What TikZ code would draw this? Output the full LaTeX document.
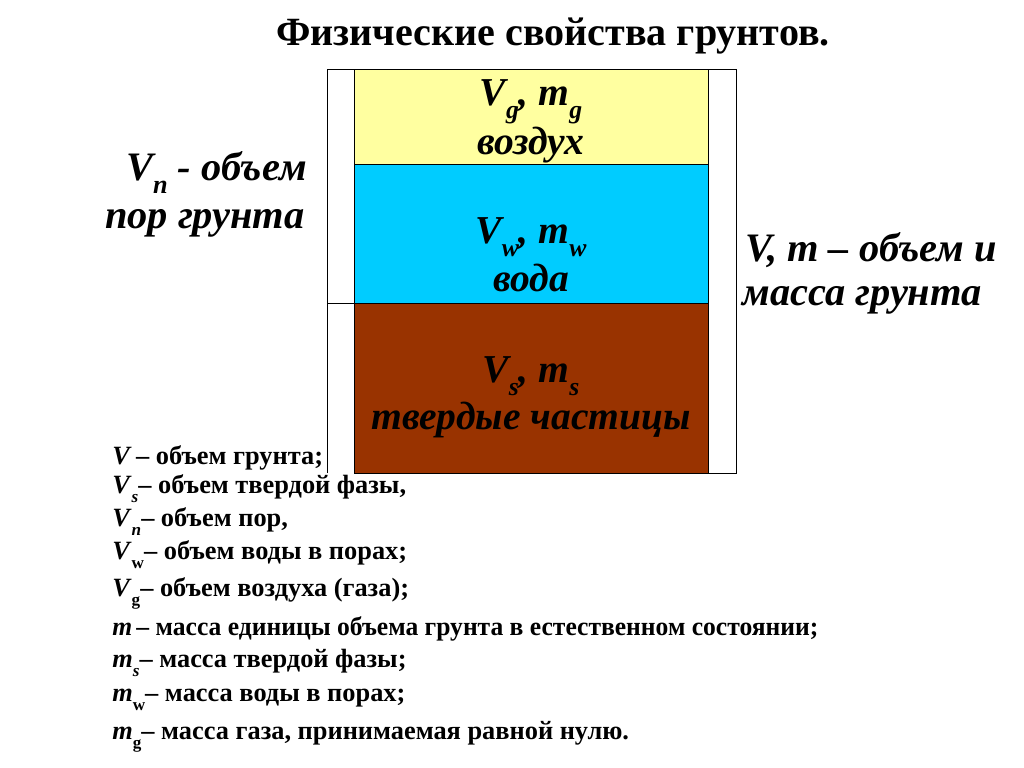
\documentclass[tikz,border=0pt]{standalone}
\usepackage{fontspec}
\setmainfont{Liberation Serif}
\usetikzlibrary{positioning}
\definecolor{airyellow}{RGB}{255,255,160}
\definecolor{waterblue}{RGB}{0,204,255}
\definecolor{soilbrown}{RGB}{153,51,0}
\newcommand{\lo}[1]{\raisebox{-0.7ex}{\scalebox{0.65}{#1}}}
\tikzset{
  cell/.style={anchor=base, font=\fontsize{22.5}{25}\selectfont\bfseries\itshape, inner sep=0pt},
  side/.style={font=\fontsize{23}{27}\selectfont\bfseries\itshape, inner sep=0pt},
  note/.style={anchor=base west, font=\fontsize{15}{18}\selectfont\bfseries, inner sep=0pt},
}
\begin{document}
\begin{tikzpicture}[x=0.2mm,y=-0.2mm]
    \useasboundingbox (0,0) rectangle (1024,768);
    % Title
    \node[font=\fontsize{22.8}{26}\selectfont\bfseries] (title) at (553,36) {Физические свойства грунтов.};

    % Soil column
    \draw[fill=airyellow] (354,69) rectangle (708,164);
    \draw[fill=waterblue] (354,164) rectangle (708,303);
    \draw[fill=soilbrown] (354,303) rectangle (708,473);
    \draw (327,69) rectangle (354,303);
    \draw (327,303) -- (327,473);
    \draw (708,69) rectangle (736,473);

    \node[cell] (airsym) at (531,106) {V\lo{g}, m\lo{g}};
    \node[cell] (air) at (531,155) {воздух};
    \node[cell] (watersym) at (531,244) {V\lo{w}, m\lo{w}};
    \node[cell] (water) at (531,292) {вода};
    \node[cell] (solidsym) at (531,383) {V\lo{s}, m\lo{s}};
    \node[cell] (solid) at (531,430) {твердые частицы};

    % Side labels
    \node[side, anchor=base east] (pores1) at (307,181) {V\lo{n} - объем};
    \node[side, anchor=base east] (pores2) at (305,229) {пор грунта};
    \node[side, anchor=base west] (total1) at (745,262) {V, m – объем и};
    \node[side, anchor=base west] (total2) at (742,306) {масса грунта};

    % Legend
    \node[note] (l1) at (112,465) {\textit{V}\,– объем грунта;};
    \node[note] (l2) at (112,494) {\textit{V}\lo{\textit{s}}– объем твердой фазы,};
    \node[note] (l3) at (112,527) {\textit{V}\lo{\textit{n}}– объем пор,};
    \node[note] (l4) at (112,560) {\textit{V}\lo{w}– объем воды в порах;};
    \node[note] (l5) at (112,597) {\textit{V}\lo{g}– объем воздуха (газа);};
    \node[note, xscale=0.97] (l6) at (112,636) {\textit{m}\,– масса единицы объема грунта в естественном состоянии;};
    \node[note] (l7) at (112,668) {\textit{m}\lo{\textit{s}}– масса твердой фазы;};
    \node[note] (l8) at (112,702) {\textit{m}\lo{w}– масса воды в порах;};
    \node[note] (l9) at (112,740) {\textit{m}\lo{g}– масса газа, принимаемая равной нулю.};
\end{tikzpicture}
\end{document}
